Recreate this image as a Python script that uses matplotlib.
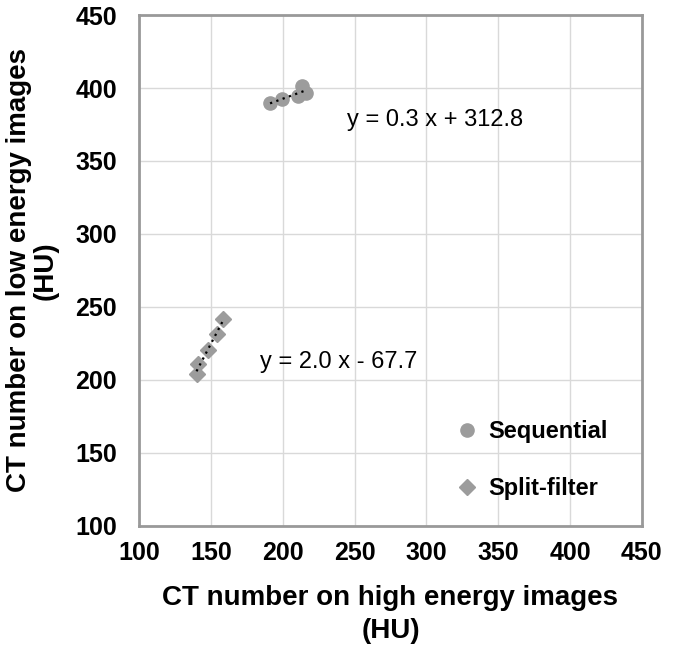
import matplotlib
matplotlib.use("Agg")
import matplotlib.pyplot as plt
import numpy as np

plt.rcParams["font.family"] = ["Liberation Sans", "DejaVu Sans"]

# Sequential acquisition (high energy HU, low energy HU)
seq_high = [191.2, 199.3, 210.9, 213.2, 216.0]
seq_low = [389.5, 392.3, 394.5, 401.4, 396.4]

# Split-filter acquisition
split_high = [140.0, 141.3, 147.8, 154.1, 158.7]
split_low = [203.9, 210.8, 220.5, 231.3, 241.8]

seq_eq = "y = 0.3 x + 312.8"
split_eq = "y = 2.0 x - 67.7"

ticks = [100, 150, 200, 250, 300, 350, 400, 450]

GRAY = "#9c9c9c"

fig = plt.figure(figsize=(6.85, 6.54), dpi=100)
ax = fig.add_axes([0.203, 0.196, 0.734, 0.781])

ax.plot(seq_high, seq_low, "o", color=GRAY, markersize=9.5, label="Sequential", zorder=3)
ax.plot(split_high, split_low, "D", color=GRAY, markersize=8.5, label="Split-filter", zorder=3)

# linear trendlines
for xs, ys in [(seq_high, seq_low), (split_high, split_low)]:
    k, b = np.polyfit(xs, ys, 1)
    xx = np.array([min(xs), max(xs)])
    ax.plot(xx, k * xx + b, color="black", linestyle=(0, (1, 2)), linewidth=1.6, zorder=4)

ax.text(245, 378, seq_eq, fontsize=17, va="center", ha="left")
ax.text(184, 212, split_eq, fontsize=17, va="center", ha="left")

ax.set_xlim(100, 450)
ax.set_ylim(100, 450)
ax.set_xticks(ticks)
ax.set_yticks(ticks)
ax.grid(True, color="#d9d9d9", linewidth=1)
ax.set_axisbelow(True)
for s in ax.spines.values():
    s.set_color("#999999")
    s.set_linewidth(2)
ax.tick_params(axis="both", length=0, labelsize=18)
ax.tick_params(axis="x", pad=11)
ax.tick_params(axis="y", pad=16)
for lbl in ax.get_xticklabels() + ax.get_yticklabels():
    lbl.set_fontweight("bold")

ax.set_xlabel("CT number on high energy images\n(HU)", fontsize=20, fontweight="bold",
              linespacing=1.35, labelpad=14)
ax.set_ylabel("CT number on low energy images\n(HU)", fontsize=20, fontweight="bold",
              linespacing=1.0, labelpad=12)

ax.legend(loc="lower right", bbox_to_anchor=(0.975, 0.008), frameon=False,
          prop={"weight": "bold", "size": 17}, labelspacing=1.45,
          handletextpad=0.3, handlelength=1.2)

fig.savefig("out.png", dpi=100)
